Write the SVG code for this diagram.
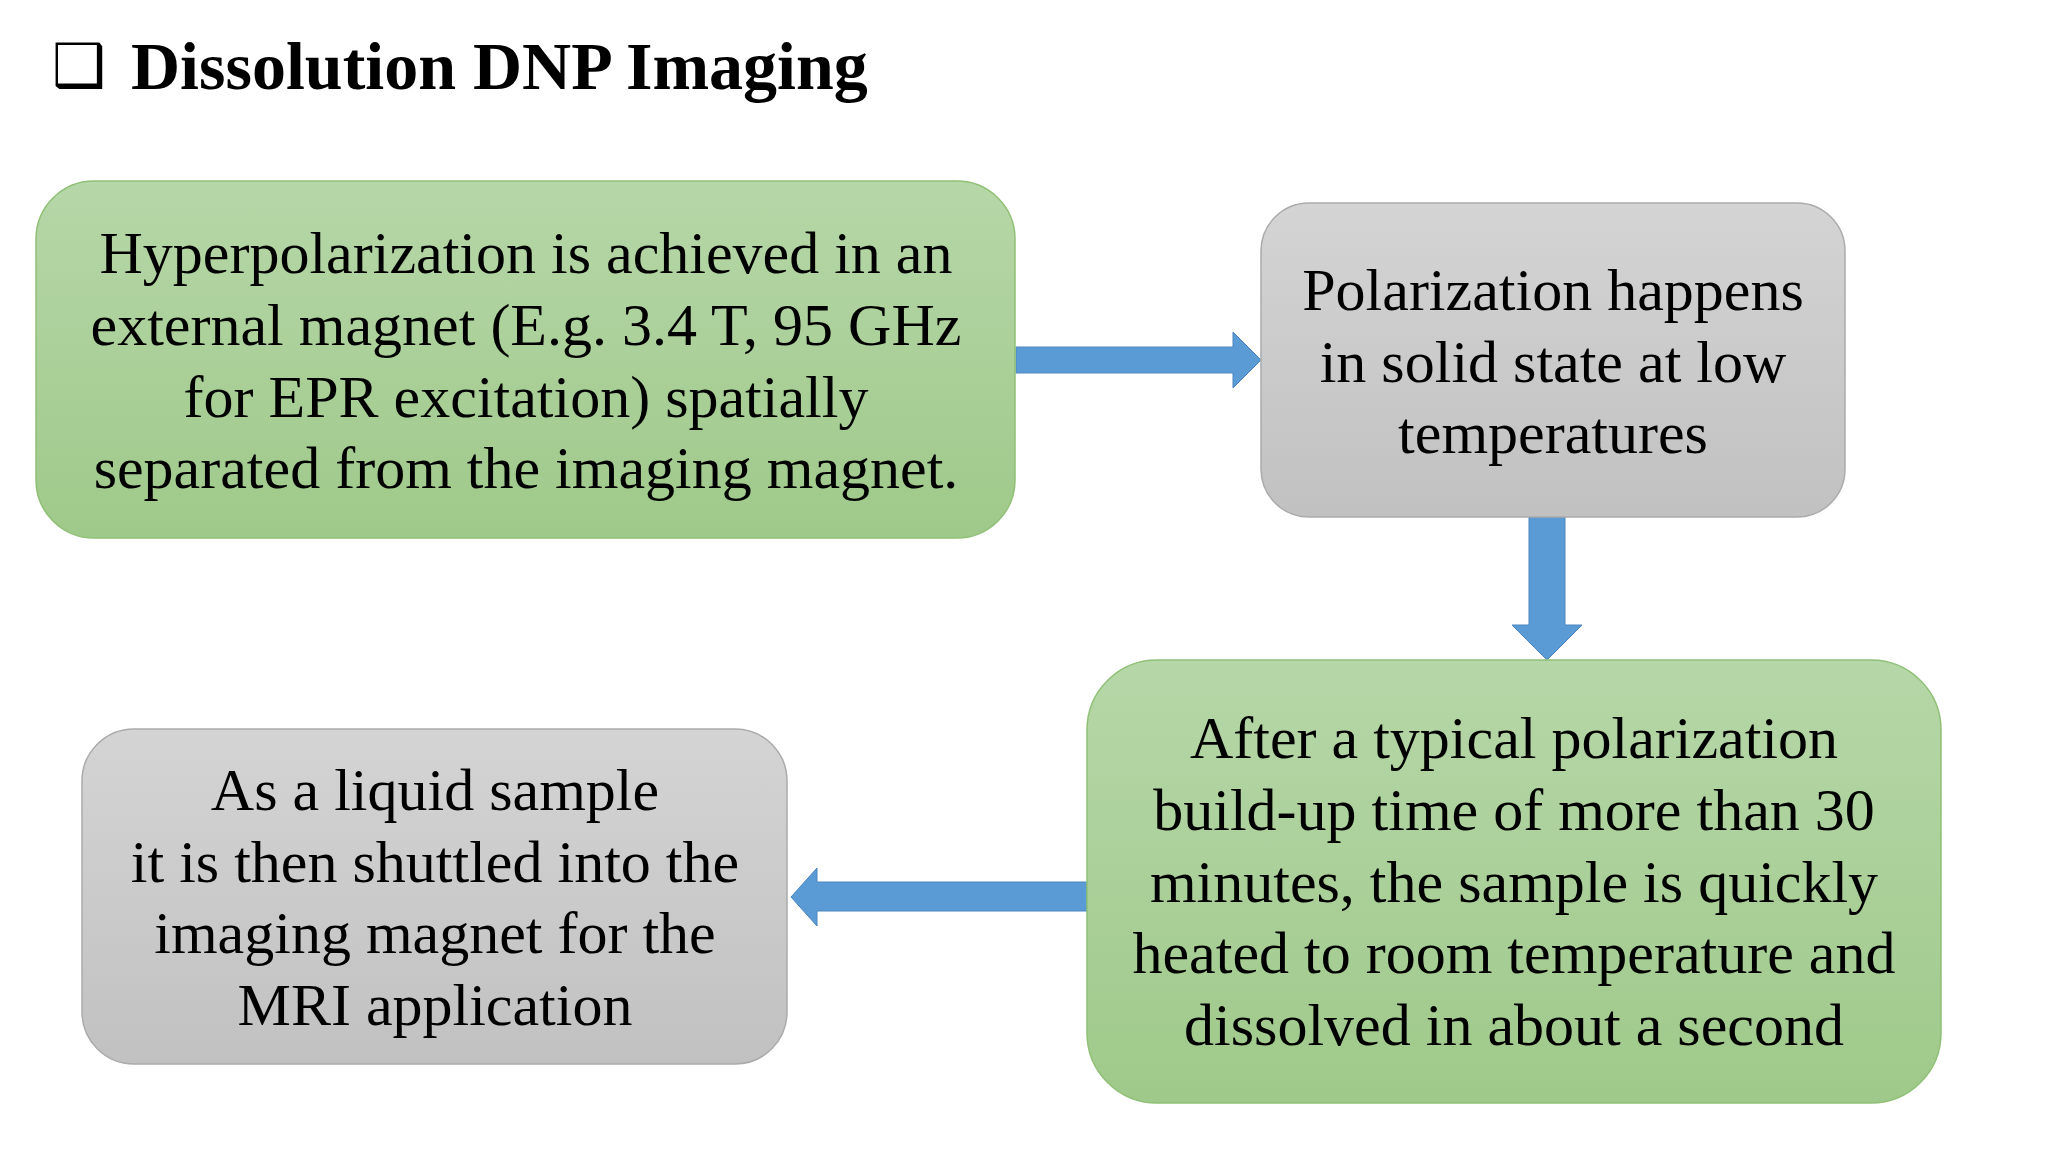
<svg xmlns="http://www.w3.org/2000/svg" width="2048" height="1152" viewBox="0 0 2048 1152">
  <defs>
    <linearGradient id="gGreen" x1="0" y1="0" x2="0" y2="1">
      <stop offset="0" stop-color="#b6d7a8"/>
      <stop offset="1" stop-color="#9fc98a"/>
    </linearGradient>
    <linearGradient id="gGray" x1="0" y1="0" x2="0" y2="1">
      <stop offset="0" stop-color="#d4d4d4"/>
      <stop offset="1" stop-color="#c1c1c1"/>
    </linearGradient>
  </defs>
  <style>
    .green { fill: url(#gGreen); stroke: #8fc076; stroke-width: 1.5; }
    .gray { fill: url(#gGray); stroke: #ababab; stroke-width: 1.5; }
    .txt { font-family: "Liberation Serif", "Times New Roman", serif; font-size: 60px; fill: #000; text-anchor: middle; }
    .title { font-family: "Liberation Serif", "Times New Roman", serif; font-size: 68px; font-weight: bold; fill: #000; }
    .arrow { fill: #5b9bd5; stroke: #4a86bd; stroke-width: 1; }
  </style>
  <rect width="2048" height="1152" fill="#ffffff"/>

  <g id="title">
    <text x="52" y="86" font-family="DejaVu Sans, sans-serif" font-size="60" fill="#000">❑</text>
    <text class="title" x="131" y="89">Dissolution DNP Imaging</text>
  </g>

  <g id="connectors">
    <polygon class="arrow" points="1016,347 1233,347 1233,332 1261,360 1233,388 1233,373 1016,373"/>
    <polygon class="arrow" points="1529,517 1565,517 1565,625 1582,625 1547,660 1512,625 1529,625"/>
    <polygon class="arrow" points="1087,882 817,882 817,868 791,897 817,926 817,911 1087,911"/>
  </g>

  <g id="node1">
    <rect class="green" x="36" y="181" width="979" height="357" rx="58" ry="58"/>
    <text class="txt" x="526" y="273">Hyperpolarization is achieved in an</text>
    <text class="txt" x="526" y="345">external magnet (E.g. 3.4 T, 95 GHz</text>
    <text class="txt" x="526" y="417">for EPR excitation) spatially</text>
    <text class="txt" x="526" y="488">separated from the imaging magnet.</text>
  </g>

  <g id="node2">
    <rect class="gray" x="1261" y="203" width="584" height="314" rx="48" ry="48"/>
    <text class="txt" x="1553" y="310">Polarization happens</text>
    <text class="txt" x="1553" y="382">in solid state at low</text>
    <text class="txt" x="1553" y="453">temperatures</text>
  </g>

  <g id="node3">
    <rect class="green" x="1087" y="660" width="854" height="443" rx="70" ry="70"/>
    <text class="txt" x="1514" y="758">After a typical polarization</text>
    <text class="txt" x="1514" y="830">build-up time of more than 30</text>
    <text class="txt" x="1514" y="902">minutes, the sample is quickly</text>
    <text class="txt" x="1514" y="973">heated to room temperature and</text>
    <text class="txt" x="1514" y="1045">dissolved in about a second</text>
  </g>

  <g id="node4">
    <rect class="gray" x="82" y="729" width="705" height="335" rx="52" ry="52"/>
    <text class="txt" x="435" y="810">As a liquid sample</text>
    <text class="txt" x="435" y="882">it is then shuttled into the</text>
    <text class="txt" x="435" y="953">imaging magnet for the</text>
    <text class="txt" x="435" y="1025">MRI application</text>
  </g>
</svg>
